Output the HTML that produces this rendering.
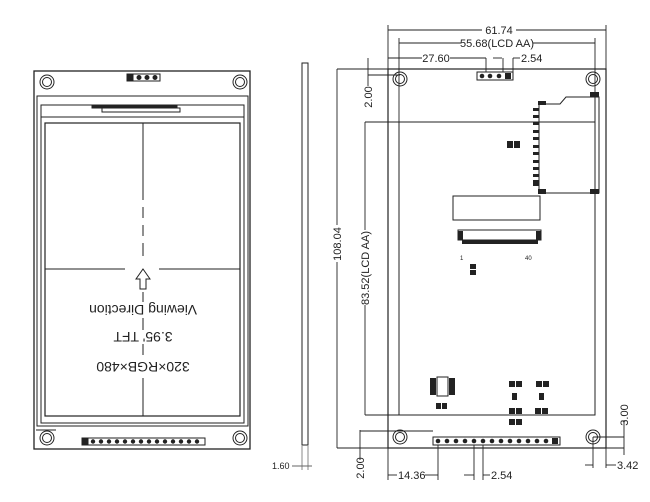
<!DOCTYPE html>
<html><head><meta charset="utf-8"><style>
html,body{margin:0;padding:0;background:#fff;}
svg{display:block;}
text{font-family:"Liberation Sans",sans-serif;fill:#222;}
</style></head><body>
<svg width="650" height="502" viewBox="0 0 650 502" xmlns="http://www.w3.org/2000/svg" stroke="#222" fill="none" stroke-width="1">
<!-- LEFT FRONT VIEW -->
<rect x="34" y="71" width="216" height="378" stroke-width="1.3"/>
<rect x="37" y="96" width="211" height="330"/>
<rect x="41" y="105" width="203" height="318"/>
<line x1="41" y1="117" x2="244" y2="117"/>
<rect x="45" y="123" width="195" height="293" stroke-width="1.2"/>
<line x1="143" y1="123" x2="143" y2="200"/>
<line x1="143" y1="207" x2="143" y2="218"/>
<line x1="143" y1="225" x2="143" y2="236"/>
<line x1="143" y1="243" x2="143" y2="256"/>
<line x1="143" y1="292" x2="143" y2="302"/>
<line x1="143" y1="318" x2="143" y2="330"/>
<line x1="143" y1="344" x2="143" y2="355"/>
<line x1="143" y1="378" x2="143" y2="416"/>
<line x1="45" y1="269" x2="125" y2="269"/>
<line x1="159" y1="269" x2="240" y2="269"/>
<path d="M143 269 L150 279 L146 279 L146 289 L140 289 L140 279 L136 279 Z" stroke-width="1"/>
<g transform="rotate(180 143 310)"><text x="143" y="315" font-size="14" text-anchor="middle" stroke="none">Viewing  Direction</text></g>
<g transform="rotate(180 143 337)"><text x="143" y="342" font-size="14" text-anchor="middle" stroke="none">3.95'     TFT</text></g>
<g transform="rotate(180 143 367)"><text x="143" y="372" font-size="14" text-anchor="middle" stroke="none">320×RGB×480</text></g>
<circle cx="47" cy="82" r="7"/><circle cx="47" cy="82" r="4.5"/>
<circle cx="240" cy="82" r="7"/><circle cx="240" cy="82" r="4.5"/>
<circle cx="47" cy="438" r="7"/><circle cx="47" cy="438" r="4.5"/>
<circle cx="240" cy="438" r="7"/><circle cx="240" cy="438" r="4.5"/>
<rect x="127" y="74" width="33" height="7"/>
<rect x="128" y="75" width="5" height="5" fill="#222"/>
<circle cx="139" cy="77.5" r="2" fill="#222"/><circle cx="147" cy="77.5" r="2" fill="#222"/><circle cx="155" cy="77.5" r="2" fill="#222"/>
<rect x="92" y="105" width="85" height="3" fill="#222"/>
<rect x="102" y="108" width="78" height="4"/>
<rect x="82" y="438" width="123" height="7"/>
<rect x="83" y="439" width="5" height="5" fill="#222"/>
<g fill="#222" stroke="none">
<circle cx="93" cy="441.5" r="2.2"/><circle cx="101" cy="441.5" r="2.2"/><circle cx="109" cy="441.5" r="2.2"/><circle cx="117" cy="441.5" r="2.2"/><circle cx="125" cy="441.5" r="2.2"/><circle cx="133" cy="441.5" r="2.2"/><circle cx="141" cy="441.5" r="2.2"/><circle cx="149" cy="441.5" r="2.2"/><circle cx="157" cy="441.5" r="2.2"/><circle cx="165" cy="441.5" r="2.2"/><circle cx="173" cy="441.5" r="2.2"/><circle cx="181" cy="441.5" r="2.2"/><circle cx="189" cy="441.5" r="2.2"/><circle cx="197" cy="441.5" r="2.2"/>
</g>
<line x1="36" y1="430" x2="56" y2="430"/>
<!-- SIDE VIEW -->
<rect x="302" y="63" width="6" height="382"/>
<line x1="302" y1="445" x2="302" y2="470" stroke="#888"/>
<line x1="308" y1="445" x2="308" y2="470" stroke="#888"/>
<line x1="292" y1="466" x2="312" y2="466" stroke="#666"/>
<text x="272" y="469" font-size="9" font-family="Liberation Serif" stroke="none" fill="#555">1.60</text>
<!-- RIGHT BACK VIEW -->
<rect x="388" y="69" width="218" height="379" stroke-width="1.2"/>
<rect x="399" y="122" width="196" height="293"/>
<circle cx="400" cy="79" r="7"/><circle cx="400" cy="79" r="4.5"/>
<circle cx="593" cy="79" r="7"/><circle cx="593" cy="79" r="4.5"/>
<circle cx="400" cy="437" r="7"/><circle cx="400" cy="437" r="4.5"/>
<circle cx="593" cy="437" r="7"/><circle cx="593" cy="437" r="4.5"/>
<rect x="477" y="72" width="36" height="8"/>
<g fill="#222" stroke="none"><circle cx="482" cy="76" r="2.3"/><circle cx="490" cy="76" r="2.3"/><circle cx="499" cy="76" r="2.3"/><rect x="505" y="73" width="6" height="6"/></g>
<!-- SD -->
<path d="M539 104 L560 104 L566 97 L599 97 L599 193 L539 193 Z"/>
<line x1="595" y1="97" x2="595" y2="193"/>
<g fill="#222" stroke="none">
<rect x="538" y="101" width="8" height="4"/><rect x="590" y="92" width="9" height="5"/>
<rect x="538" y="189" width="8" height="5"/><rect x="590" y="189" width="9" height="5"/>
<rect x="533" y="108" width="6" height="3"/><rect x="533" y="115" width="6" height="3"/><rect x="533" y="122" width="6" height="3"/><rect x="533" y="130" width="6" height="3"/><rect x="533" y="137" width="6" height="3"/><rect x="533" y="145" width="6" height="3"/><rect x="533" y="152" width="6" height="3"/><rect x="533" y="160" width="6" height="3"/><rect x="533" y="167" width="6" height="3"/><rect x="533" y="174" width="6" height="3"/><rect x="533" y="180" width="6" height="6"/>
<rect x="507" y="141" width="6" height="7"/><rect x="514" y="141" width="6" height="7"/>
<rect x="458" y="231" width="5" height="9"/><rect x="536" y="231" width="5" height="9"/>
<rect x="462" y="240" width="76" height="4"/>
<rect x="470" y="264" width="6" height="5"/><rect x="470" y="270" width="6" height="5"/>
</g>
<rect x="453" y="196" width="87" height="24"/>
<rect x="458" y="230" width="83" height="10"/>
<text x="460" y="260" font-size="6" stroke="none">1</text>
<text x="525" y="260" font-size="6" stroke="none">40</text>
<!-- bottom components -->
<g fill="#222" stroke="none">
<rect x="430" y="378" width="6" height="17"/><rect x="449" y="378" width="6" height="17"/>
<rect x="436" y="403" width="5" height="6"/><rect x="442" y="403" width="5" height="6"/>
<rect x="509" y="381" width="6" height="6"/><rect x="516" y="381" width="6" height="6"/>
<rect x="536" y="381" width="6" height="6"/><rect x="543" y="381" width="6" height="6"/>
<rect x="512" y="393" width="5" height="7"/><rect x="539" y="393" width="5" height="7"/>
<rect x="509" y="408" width="6" height="6"/><rect x="516" y="408" width="6" height="6"/>
<rect x="535" y="408" width="6" height="6"/><rect x="542" y="408" width="6" height="6"/>
<rect x="509" y="419" width="6" height="6"/><rect x="516" y="419" width="6" height="6"/>
</g>
<rect x="437" y="377" width="11" height="19"/>
<rect x="433" y="437" width="127" height="8"/>
<g fill="#222" stroke="none">
<circle cx="438" cy="441" r="2.3"/><circle cx="447" cy="441" r="2.3"/><circle cx="456" cy="441" r="2.3"/><circle cx="465" cy="441" r="2.3"/><circle cx="474" cy="441" r="2.3"/><circle cx="483" cy="441" r="2.3"/><circle cx="492" cy="441" r="2.3"/><circle cx="501" cy="441" r="2.3"/><circle cx="510" cy="441" r="2.3"/><circle cx="519" cy="441" r="2.3"/><circle cx="528" cy="441" r="2.3"/><circle cx="537" cy="441" r="2.3"/><circle cx="546" cy="441" r="2.3"/><rect x="552" y="438" width="6" height="6"/>
</g>
<!-- dimensions -->
<g stroke-width="0.9">
<line x1="388" y1="25" x2="388" y2="69"/><line x1="606" y1="25" x2="606" y2="69"/>
<line x1="388" y1="30" x2="482" y2="30"/><line x1="516" y1="30" x2="606" y2="30"/>
<line x1="399" y1="38" x2="399" y2="122"/><line x1="595" y1="38" x2="595" y2="122"/>
<line x1="399" y1="43" x2="461" y2="43"/><line x1="533" y1="43" x2="595" y2="43"/>
<line x1="388" y1="58" x2="422" y2="58"/><line x1="450" y1="58" x2="486" y2="58"/>
<line x1="486" y1="58" x2="486" y2="72"/>
<line x1="493" y1="58" x2="502" y2="58"/>
<line x1="503" y1="58" x2="503" y2="72"/><line x1="513" y1="58" x2="513" y2="72"/>
<line x1="513" y1="58" x2="520" y2="58"/>
<line x1="337" y1="69" x2="388" y2="69"/><line x1="337" y1="448" x2="433" y2="448"/>
<line x1="337" y1="69" x2="337" y2="225"/><line x1="337" y1="262" x2="337" y2="448"/>
<line x1="365" y1="122" x2="399" y2="122"/><line x1="365" y1="415" x2="399" y2="415"/>
<line x1="365" y1="122" x2="365" y2="230"/><line x1="365" y1="305" x2="365" y2="415"/>
<line x1="368" y1="58" x2="368" y2="86"/><line x1="368" y1="75" x2="400" y2="75"/>
<line x1="360" y1="430" x2="360" y2="460"/><line x1="360" y1="431" x2="433" y2="431"/>
<line x1="388" y1="448" x2="388" y2="480"/><line x1="438" y1="445" x2="438" y2="480"/>
<line x1="388" y1="475" x2="397" y2="475"/><line x1="425" y1="475" x2="438" y2="475"/>
<line x1="474" y1="445" x2="474" y2="480"/><line x1="483" y1="445" x2="483" y2="480"/>
<line x1="464" y1="475" x2="474" y2="475"/><line x1="483" y1="475" x2="490" y2="475"/>
<line x1="593" y1="437" x2="624" y2="437"/><line x1="606" y1="448" x2="624" y2="448"/>
<line x1="624" y1="420" x2="624" y2="455"/>
<line x1="593" y1="437" x2="593" y2="468"/><line x1="606" y1="448" x2="606" y2="468"/>
<line x1="585" y1="465" x2="593" y2="465"/><line x1="606" y1="465" x2="616" y2="465"/>
</g>
<g stroke="none" font-size="11">
<text x="499" y="34" text-anchor="middle">61.74</text>
<text x="497" y="47" text-anchor="middle">55.68(LCD  AA)</text>
<text x="436" y="62" text-anchor="middle">27.60</text>
<text x="521" y="62">2.54</text>
<text x="398" y="479" text-anchor="start">14.36</text>
<text x="491" y="479">2.54</text>
<text x="617" y="469">3.42</text>
<text transform="translate(341 244) rotate(-90)" text-anchor="middle">108.04</text>
<text transform="translate(369 268) rotate(-90)" text-anchor="middle">83.52(LCD  AA)</text>
<text transform="translate(372 97) rotate(-90)" text-anchor="middle">2.00</text>
<text transform="translate(364 468) rotate(-90)" text-anchor="middle">2.00</text>
<text transform="translate(628 415) rotate(-90)" text-anchor="middle">3.00</text>
</g>
</svg>
</body></html>
